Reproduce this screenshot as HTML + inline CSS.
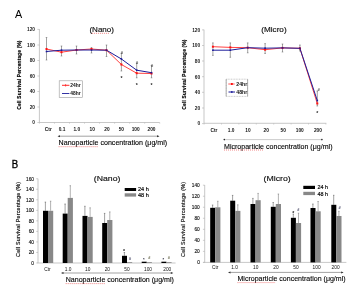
<!DOCTYPE html>
<html><head><meta charset="utf-8"><style>
html,body{margin:0;padding:0;background:#fff;width:362px;height:295px;overflow:hidden}
svg{display:block;filter:blur(0.25px)}
text{font-family:"Liberation Sans", sans-serif}
</style></head><body>
<svg width="362" height="295" viewBox="0 0 362 295">
<rect width="362" height="295" fill="#fff"/>
<text x="15" y="17.6" font-size="11" text-anchor="start" font-weight="normal" fill="#000" textLength="7.2" lengthAdjust="spacingAndGlyphs" >A</text>
<text transform="translate(19.2,75.1) rotate(-90)" x="0" y="0" font-size="4.7" text-anchor="middle" dominant-baseline="central" font-weight="bold" fill="#000" stroke="#000" stroke-width="0.18" textLength="69" lengthAdjust="spacing">Cell Survival Percentage (%)</text>
<line x1="39.4" y1="29.2" x2="39.4" y2="122.5" stroke="#b0b0b0" stroke-width="0.7" />
<line x1="37.4" y1="29.4" x2="39.4" y2="29.4" stroke="#b0b0b0" stroke-width="0.6" />
<text x="35" y="31.2" font-size="4.8" text-anchor="end" font-weight="bold" fill="#222" >120</text>
<line x1="37.4" y1="45" x2="39.4" y2="45" stroke="#b0b0b0" stroke-width="0.6" />
<text x="35" y="46.8" font-size="4.8" text-anchor="end" font-weight="bold" fill="#222" >100</text>
<line x1="37.4" y1="60.5" x2="39.4" y2="60.5" stroke="#b0b0b0" stroke-width="0.6" />
<text x="35" y="62.3" font-size="4.8" text-anchor="end" font-weight="bold" fill="#222" >80</text>
<line x1="37.4" y1="76" x2="39.4" y2="76" stroke="#b0b0b0" stroke-width="0.6" />
<text x="35" y="77.8" font-size="4.8" text-anchor="end" font-weight="bold" fill="#222" >60</text>
<line x1="37.4" y1="91.5" x2="39.4" y2="91.5" stroke="#b0b0b0" stroke-width="0.6" />
<text x="35" y="93.3" font-size="4.8" text-anchor="end" font-weight="bold" fill="#222" >40</text>
<line x1="37.4" y1="107" x2="39.4" y2="107" stroke="#b0b0b0" stroke-width="0.6" />
<text x="35" y="108.8" font-size="4.8" text-anchor="end" font-weight="bold" fill="#222" >20</text>
<line x1="37.4" y1="122.5" x2="39.4" y2="122.5" stroke="#b0b0b0" stroke-width="0.6" />
<text x="35" y="124.3" font-size="4.8" text-anchor="end" font-weight="bold" fill="#222" >0</text>
<line x1="39.4" y1="122.5" x2="159.7" y2="122.5" stroke="#b0b0b0" stroke-width="0.7" />
<line x1="39.4" y1="122.5" x2="39.4" y2="123.8" stroke="#b0b0b0" stroke-width="0.5" />
<line x1="54.44" y1="122.5" x2="54.44" y2="123.8" stroke="#b0b0b0" stroke-width="0.5" />
<line x1="69.47999999999999" y1="122.5" x2="69.47999999999999" y2="123.8" stroke="#b0b0b0" stroke-width="0.5" />
<line x1="84.52" y1="122.5" x2="84.52" y2="123.8" stroke="#b0b0b0" stroke-width="0.5" />
<line x1="99.56" y1="122.5" x2="99.56" y2="123.8" stroke="#b0b0b0" stroke-width="0.5" />
<line x1="114.6" y1="122.5" x2="114.6" y2="123.8" stroke="#b0b0b0" stroke-width="0.5" />
<line x1="129.64" y1="122.5" x2="129.64" y2="123.8" stroke="#b0b0b0" stroke-width="0.5" />
<line x1="144.68" y1="122.5" x2="144.68" y2="123.8" stroke="#b0b0b0" stroke-width="0.5" />
<line x1="159.72" y1="122.5" x2="159.72" y2="123.8" stroke="#b0b0b0" stroke-width="0.5" />
<text x="48.3" y="131" font-size="4.8" text-anchor="middle" font-weight="bold" fill="#111" >Ctr</text>
<text x="62" y="131" font-size="4.8" text-anchor="middle" font-weight="bold" fill="#111" >0.1</text>
<text x="76.8" y="131" font-size="4.8" text-anchor="middle" font-weight="bold" fill="#111" >1.0</text>
<text x="92.2" y="131" font-size="4.8" text-anchor="middle" font-weight="bold" fill="#111" >10</text>
<text x="107" y="131" font-size="4.8" text-anchor="middle" font-weight="bold" fill="#111" >20</text>
<text x="121.3" y="131" font-size="4.8" text-anchor="middle" font-weight="bold" fill="#111" >50</text>
<text x="135.7" y="131" font-size="4.8" text-anchor="middle" font-weight="bold" fill="#111" >100</text>
<text x="151.5" y="131" font-size="4.8" text-anchor="middle" font-weight="bold" fill="#111" >200</text>
<line x1="58.5" y1="136.2" x2="158.5" y2="136.2" stroke="#444" stroke-width="0.5" />
<path d="M57.5,136.2 L60,135.2 L60,137.2 Z" fill="#333"/>
<path d="M159.5,136.2 L157,135.2 L157,137.2 Z" fill="#333"/>
<text x="58.6" y="145.2" font-size="6.6" text-anchor="start" font-weight="normal" fill="#000" textLength="108.6" lengthAdjust="spacingAndGlyphs" stroke="#000" stroke-width="0.1">Nanoparticle concentration (μg/ml)</text>
<line x1="58.6" y1="146.7" x2="98.5" y2="146.7" stroke="#e83030" stroke-width="0.6" stroke-dasharray="1 1"/>
<text x="89.4" y="32" font-size="7.2" text-anchor="start" font-weight="normal" fill="#111" textLength="24.6" lengthAdjust="spacingAndGlyphs" stroke="#111" stroke-width="0.15">(Nano)</text>
<line x1="91.9" y1="33.3" x2="109.4" y2="33.3" stroke="#e83030" stroke-width="0.6" stroke-dasharray="1 1"/>
<line x1="46.5" y1="37.5" x2="46.5" y2="60" stroke="#555555" stroke-width="0.55" />
<line x1="45.7" y1="37.5" x2="47.3" y2="37.5" stroke="#555555" stroke-width="0.5" />
<line x1="45.7" y1="60" x2="47.3" y2="60" stroke="#555555" stroke-width="0.5" />
<line x1="61.5" y1="46" x2="61.5" y2="56" stroke="#555555" stroke-width="0.55" />
<line x1="60.7" y1="46" x2="62.3" y2="46" stroke="#555555" stroke-width="0.5" />
<line x1="60.7" y1="56" x2="62.3" y2="56" stroke="#555555" stroke-width="0.5" />
<line x1="76.5" y1="46" x2="76.5" y2="54" stroke="#555555" stroke-width="0.55" />
<line x1="75.7" y1="46" x2="77.3" y2="46" stroke="#555555" stroke-width="0.5" />
<line x1="75.7" y1="54" x2="77.3" y2="54" stroke="#555555" stroke-width="0.5" />
<line x1="91.5" y1="47.5" x2="91.5" y2="53" stroke="#555555" stroke-width="0.55" />
<line x1="90.7" y1="47.5" x2="92.3" y2="47.5" stroke="#555555" stroke-width="0.5" />
<line x1="90.7" y1="53" x2="92.3" y2="53" stroke="#555555" stroke-width="0.5" />
<line x1="106.5" y1="45" x2="106.5" y2="56.5" stroke="#555555" stroke-width="0.55" />
<line x1="105.7" y1="45" x2="107.3" y2="45" stroke="#555555" stroke-width="0.5" />
<line x1="105.7" y1="56.5" x2="107.3" y2="56.5" stroke="#555555" stroke-width="0.5" />
<line x1="121.4" y1="53.4" x2="121.4" y2="71" stroke="#555555" stroke-width="0.55" />
<line x1="120.60000000000001" y1="53.4" x2="122.2" y2="53.4" stroke="#555555" stroke-width="0.5" />
<line x1="120.60000000000001" y1="71" x2="122.2" y2="71" stroke="#555555" stroke-width="0.5" />
<line x1="136.7" y1="63.3" x2="136.7" y2="77.8" stroke="#555555" stroke-width="0.55" />
<line x1="135.89999999999998" y1="63.3" x2="137.5" y2="63.3" stroke="#555555" stroke-width="0.5" />
<line x1="135.89999999999998" y1="77.8" x2="137.5" y2="77.8" stroke="#555555" stroke-width="0.5" />
<line x1="151.5" y1="65.6" x2="151.5" y2="77.8" stroke="#555555" stroke-width="0.55" />
<line x1="150.7" y1="65.6" x2="152.3" y2="65.6" stroke="#555555" stroke-width="0.5" />
<line x1="150.7" y1="77.8" x2="152.3" y2="77.8" stroke="#555555" stroke-width="0.5" />
<polyline fill="none" stroke="#ff1010" stroke-width="0.8" points="46.5,49 61.5,52.2 76.5,50 91.5,49 106.5,50.2 121.4,64.5 136.7,73.2 151.5,73.5"/>
<polyline fill="none" stroke="#1c1c9a" stroke-width="1" points="46.5,51.5 61.5,50.2 76.5,50 91.5,50 106.5,50.2 121.4,59 136.7,70.2 151.5,72.7"/>
<rect x="45.5" y="48" width="2" height="2" fill="#ff1010"/>
<rect x="60.5" y="51.2" width="2" height="2" fill="#ff1010"/>
<rect x="75.5" y="49" width="2" height="2" fill="#ff1010"/>
<rect x="90.5" y="48" width="2" height="2" fill="#ff1010"/>
<rect x="105.5" y="49.2" width="2" height="2" fill="#ff1010"/>
<rect x="120.4" y="63.5" width="2" height="2" fill="#ff1010"/>
<rect x="135.7" y="72.2" width="2" height="2" fill="#ff1010"/>
<rect x="150.5" y="72.5" width="2" height="2" fill="#ff1010"/>
<rect x="45.7" y="50.7" width="1.6" height="1.6" fill="#1c1c9a"/>
<rect x="60.7" y="49.400000000000006" width="1.6" height="1.6" fill="#1c1c9a"/>
<rect x="75.7" y="49.2" width="1.6" height="1.6" fill="#1c1c9a"/>
<rect x="90.7" y="49.2" width="1.6" height="1.6" fill="#1c1c9a"/>
<rect x="105.7" y="49.400000000000006" width="1.6" height="1.6" fill="#1c1c9a"/>
<rect x="120.60000000000001" y="58.2" width="1.6" height="1.6" fill="#1c1c9a"/>
<rect x="135.89999999999998" y="69.4" width="1.6" height="1.6" fill="#1c1c9a"/>
<rect x="150.7" y="71.9" width="1.6" height="1.6" fill="#1c1c9a"/>
<text x="121.9" y="53.6" font-size="4" text-anchor="middle" font-weight="bold" fill="#333" >#</text>
<text x="137.2" y="63.6" font-size="4" text-anchor="middle" font-weight="bold" fill="#333" >#</text>
<text x="152.0" y="66.6" font-size="4" text-anchor="middle" font-weight="bold" fill="#333" >#</text>
<text x="121.4" y="79.7" font-size="5.2" text-anchor="middle" font-weight="bold" fill="#222" >*</text>
<text x="136.7" y="86.6" font-size="5.2" text-anchor="middle" font-weight="bold" fill="#222" >*</text>
<text x="151.5" y="87.0" font-size="5.2" text-anchor="middle" font-weight="bold" fill="#222" >*</text>
<rect x="59.2" y="80.8" width="23.4" height="16.8" fill="#fff" stroke="#999" stroke-width="0.6"/>
<line x1="62" y1="85.3" x2="69.4" y2="85.3" stroke="#ff1010" stroke-width="0.9" />
<line x1="65.6" y1="84" x2="65.6" y2="86.6" stroke="#ff1010" stroke-width="0.6" />
<text x="70.3" y="87" font-size="5" text-anchor="start" font-weight="bold" fill="#111" textLength="10.3" lengthAdjust="spacingAndGlyphs" >24hr</text>
<line x1="62" y1="93.5" x2="69.4" y2="93.5" stroke="#1c1c9a" stroke-width="0.9" />
<text x="70.3" y="95.2" font-size="5" text-anchor="start" font-weight="bold" fill="#111" textLength="10.3" lengthAdjust="spacingAndGlyphs" >48hr</text>
<text transform="translate(184.3,74.6) rotate(-90)" x="0" y="0" font-size="4.7" text-anchor="middle" dominant-baseline="central" font-weight="bold" fill="#000" stroke="#000" stroke-width="0.18" textLength="70" lengthAdjust="spacing">Cell Survival Percentage (%)</text>
<line x1="204" y1="29.6" x2="204" y2="123.3" stroke="#b0b0b0" stroke-width="0.7" />
<line x1="202" y1="29.9" x2="204" y2="29.9" stroke="#b0b0b0" stroke-width="0.6" />
<text x="200.2" y="31.7" font-size="4.8" text-anchor="end" font-weight="bold" fill="#222" >120</text>
<line x1="202" y1="45.5" x2="204" y2="45.5" stroke="#b0b0b0" stroke-width="0.6" />
<text x="200.2" y="47.3" font-size="4.8" text-anchor="end" font-weight="bold" fill="#222" >100</text>
<line x1="202" y1="61" x2="204" y2="61" stroke="#b0b0b0" stroke-width="0.6" />
<text x="200.2" y="62.8" font-size="4.8" text-anchor="end" font-weight="bold" fill="#222" >80</text>
<line x1="202" y1="76.7" x2="204" y2="76.7" stroke="#b0b0b0" stroke-width="0.6" />
<text x="200.2" y="78.5" font-size="4.8" text-anchor="end" font-weight="bold" fill="#222" >60</text>
<line x1="202" y1="92.3" x2="204" y2="92.3" stroke="#b0b0b0" stroke-width="0.6" />
<text x="200.2" y="94.1" font-size="4.8" text-anchor="end" font-weight="bold" fill="#222" >40</text>
<line x1="202" y1="108" x2="204" y2="108" stroke="#b0b0b0" stroke-width="0.6" />
<text x="200.2" y="109.8" font-size="4.8" text-anchor="end" font-weight="bold" fill="#222" >20</text>
<line x1="202" y1="123.6" x2="204" y2="123.6" stroke="#b0b0b0" stroke-width="0.6" />
<text x="200.2" y="125.39999999999999" font-size="4.8" text-anchor="end" font-weight="bold" fill="#222" >0</text>
<line x1="204" y1="123.3" x2="326.3" y2="123.3" stroke="#b0b0b0" stroke-width="0.7" />
<line x1="204.1" y1="123.3" x2="204.1" y2="124.6" stroke="#b0b0b0" stroke-width="0.5" />
<line x1="221.5" y1="123.3" x2="221.5" y2="124.6" stroke="#b0b0b0" stroke-width="0.5" />
<line x1="238.89999999999998" y1="123.3" x2="238.89999999999998" y2="124.6" stroke="#b0b0b0" stroke-width="0.5" />
<line x1="256.3" y1="123.3" x2="256.3" y2="124.6" stroke="#b0b0b0" stroke-width="0.5" />
<line x1="273.7" y1="123.3" x2="273.7" y2="124.6" stroke="#b0b0b0" stroke-width="0.5" />
<line x1="291.1" y1="123.3" x2="291.1" y2="124.6" stroke="#b0b0b0" stroke-width="0.5" />
<line x1="308.5" y1="123.3" x2="308.5" y2="124.6" stroke="#b0b0b0" stroke-width="0.5" />
<line x1="325.9" y1="123.3" x2="325.9" y2="124.6" stroke="#b0b0b0" stroke-width="0.5" />
<text x="214" y="131.9" font-size="4.8" text-anchor="middle" font-weight="bold" fill="#111" >Ctr</text>
<text x="231.2" y="131.9" font-size="4.8" text-anchor="middle" font-weight="bold" fill="#111" >1.0</text>
<text x="248" y="131.9" font-size="4.8" text-anchor="middle" font-weight="bold" fill="#111" >10</text>
<text x="266.2" y="131.9" font-size="4.8" text-anchor="middle" font-weight="bold" fill="#111" >20</text>
<text x="283.2" y="131.9" font-size="4.8" text-anchor="middle" font-weight="bold" fill="#111" >50</text>
<text x="299.8" y="131.9" font-size="4.8" text-anchor="middle" font-weight="bold" fill="#111" >100</text>
<text x="317.9" y="131.9" font-size="4.8" text-anchor="middle" font-weight="bold" fill="#111" >200</text>
<line x1="224" y1="139.6" x2="321.9" y2="139.6" stroke="#aaa" stroke-width="0.6" />
<circle cx="224.3" cy="139.6" r="0.8" fill="#222"/>
<circle cx="321.9" cy="139.6" r="0.8" fill="#222"/>
<text x="224" y="148.6" font-size="6.6" text-anchor="start" font-weight="normal" fill="#000" textLength="108.5" lengthAdjust="spacingAndGlyphs" stroke="#000" stroke-width="0.1">Microparticle concentration (μg/ml)</text>
<line x1="224" y1="150" x2="263" y2="150" stroke="#e83030" stroke-width="0.6" stroke-dasharray="1 1"/>
<text x="261.3" y="32" font-size="7.2" text-anchor="start" font-weight="normal" fill="#111" textLength="25.3" lengthAdjust="spacingAndGlyphs" stroke="#111" stroke-width="0.15">(Micro)</text>
<line x1="212.9" y1="42.9" x2="212.9" y2="55.4" stroke="#555555" stroke-width="0.55" />
<line x1="212.1" y1="42.9" x2="213.70000000000002" y2="42.9" stroke="#555555" stroke-width="0.5" />
<line x1="212.1" y1="55.4" x2="213.70000000000002" y2="55.4" stroke="#555555" stroke-width="0.5" />
<line x1="230.3" y1="42.9" x2="230.3" y2="57.3" stroke="#555555" stroke-width="0.55" />
<line x1="229.5" y1="42.9" x2="231.10000000000002" y2="42.9" stroke="#555555" stroke-width="0.5" />
<line x1="229.5" y1="57.3" x2="231.10000000000002" y2="57.3" stroke="#555555" stroke-width="0.5" />
<line x1="247.7" y1="42.9" x2="247.7" y2="52.8" stroke="#555555" stroke-width="0.55" />
<line x1="246.89999999999998" y1="42.9" x2="248.5" y2="42.9" stroke="#555555" stroke-width="0.5" />
<line x1="246.89999999999998" y1="52.8" x2="248.5" y2="52.8" stroke="#555555" stroke-width="0.5" />
<line x1="265.1" y1="43.6" x2="265.1" y2="53.5" stroke="#555555" stroke-width="0.55" />
<line x1="264.3" y1="43.6" x2="265.90000000000003" y2="43.6" stroke="#555555" stroke-width="0.5" />
<line x1="264.3" y1="53.5" x2="265.90000000000003" y2="53.5" stroke="#555555" stroke-width="0.5" />
<line x1="282.5" y1="44" x2="282.5" y2="52" stroke="#555555" stroke-width="0.55" />
<line x1="281.7" y1="44" x2="283.3" y2="44" stroke="#555555" stroke-width="0.5" />
<line x1="281.7" y1="52" x2="283.3" y2="52" stroke="#555555" stroke-width="0.5" />
<line x1="299.9" y1="45" x2="299.9" y2="51" stroke="#555555" stroke-width="0.55" />
<line x1="299.09999999999997" y1="45" x2="300.7" y2="45" stroke="#555555" stroke-width="0.5" />
<line x1="299.09999999999997" y1="51" x2="300.7" y2="51" stroke="#555555" stroke-width="0.5" />
<line x1="317.3" y1="91" x2="317.3" y2="106" stroke="#555555" stroke-width="0.55" />
<line x1="316.5" y1="91" x2="318.1" y2="91" stroke="#555555" stroke-width="0.5" />
<line x1="316.5" y1="106" x2="318.1" y2="106" stroke="#555555" stroke-width="0.5" />
<polyline fill="none" stroke="#ff1010" stroke-width="0.8" points="212.9,46.7 230.3,47.4 247.7,47.7 265.1,49.7 282.5,47.9 299.9,48.3 317.3,103.5"/>
<polyline fill="none" stroke="#1c1c9a" stroke-width="1" points="212.9,50.2 230.3,50.2 247.7,47.7 265.1,48.2 282.5,47.9 299.9,48.3 317.3,100.6"/>
<rect x="211.9" y="45.7" width="2" height="2" fill="#ff1010"/>
<rect x="229.3" y="46.4" width="2" height="2" fill="#ff1010"/>
<rect x="246.7" y="46.7" width="2" height="2" fill="#ff1010"/>
<rect x="264.1" y="48.7" width="2" height="2" fill="#ff1010"/>
<rect x="281.5" y="46.9" width="2" height="2" fill="#ff1010"/>
<rect x="298.9" y="47.3" width="2" height="2" fill="#ff1010"/>
<rect x="316.3" y="102.5" width="2" height="2" fill="#ff1010"/>
<rect x="212.1" y="49.400000000000006" width="1.6" height="1.6" fill="#1c1c9a"/>
<rect x="229.5" y="49.400000000000006" width="1.6" height="1.6" fill="#1c1c9a"/>
<rect x="246.89999999999998" y="46.900000000000006" width="1.6" height="1.6" fill="#1c1c9a"/>
<rect x="264.3" y="47.400000000000006" width="1.6" height="1.6" fill="#1c1c9a"/>
<rect x="281.7" y="47.1" width="1.6" height="1.6" fill="#1c1c9a"/>
<rect x="299.09999999999997" y="47.5" width="1.6" height="1.6" fill="#1c1c9a"/>
<rect x="316.5" y="99.8" width="1.6" height="1.6" fill="#1c1c9a"/>
<text x="318.5" y="91" font-size="4" text-anchor="middle" font-weight="bold" fill="#333" >#</text>
<text x="317.3" y="114.6" font-size="5.2" text-anchor="middle" font-weight="bold" fill="#222" >*</text>
<rect x="226.2" y="79.2" width="21.4" height="17.2" fill="#fff" stroke="#aaa" stroke-width="0.6" stroke-dasharray="1 0.6"/>
<line x1="226.2" y1="79.2" x2="226.2" y2="96.4" stroke="#888" stroke-width="0.6" />
<line x1="247.6" y1="79.2" x2="247.6" y2="96.4" stroke="#888" stroke-width="0.6" />
<line x1="228.5" y1="84" x2="235" y2="84" stroke="#ff1010" stroke-width="1" stroke-dasharray="1.2 0.8"/>
<rect x="230.8" y="83" width="2" height="2" fill="#ff1010"/>
<text x="236.3" y="86.2" font-size="5.6" text-anchor="start" font-weight="bold" fill="#111" textLength="10.9" lengthAdjust="spacingAndGlyphs" >24hr</text>
<line x1="228.5" y1="92" x2="235" y2="92" stroke="#1c1c9a" stroke-width="1" />
<rect x="231" y="91.2" width="1.6" height="1.6" fill="#1c1c9a"/>
<text x="236.3" y="94.1" font-size="5.6" text-anchor="start" font-weight="bold" fill="#111" textLength="10.9" lengthAdjust="spacingAndGlyphs" >48hr</text>
<text x="11.8" y="167.6" font-size="10.5" text-anchor="start" font-weight="normal" fill="#000" textLength="6.4" lengthAdjust="spacingAndGlyphs" stroke="#000" stroke-width="0.35">B</text>
<text transform="translate(18.2,219.5) rotate(-90)" x="0" y="0" font-size="5.4" text-anchor="middle" dominant-baseline="central" font-weight="normal" fill="#111" stroke="#111" stroke-width="0.18" textLength="75" lengthAdjust="spacing">Cell Survival Percentage (%)</text>
<line x1="38" y1="178.7" x2="38" y2="263" stroke="#b0b0b0" stroke-width="0.7" />
<line x1="36.2" y1="178.75" x2="38" y2="178.75" stroke="#b0b0b0" stroke-width="0.6" />
<text x="34" y="180.55" font-size="4.8" text-anchor="end" font-weight="normal" fill="#111" stroke="#111" stroke-width="0.12">160</text>
<line x1="36.2" y1="189.28" x2="38" y2="189.28" stroke="#b0b0b0" stroke-width="0.6" />
<text x="34" y="191.08" font-size="4.8" text-anchor="end" font-weight="normal" fill="#111" stroke="#111" stroke-width="0.12">140</text>
<line x1="36.2" y1="199.81" x2="38" y2="199.81" stroke="#b0b0b0" stroke-width="0.6" />
<text x="34" y="201.61" font-size="4.8" text-anchor="end" font-weight="normal" fill="#111" stroke="#111" stroke-width="0.12">120</text>
<line x1="36.2" y1="210.34" x2="38" y2="210.34" stroke="#b0b0b0" stroke-width="0.6" />
<text x="34" y="212.14000000000001" font-size="4.8" text-anchor="end" font-weight="normal" fill="#111" stroke="#111" stroke-width="0.12">100</text>
<line x1="36.2" y1="220.87" x2="38" y2="220.87" stroke="#b0b0b0" stroke-width="0.6" />
<text x="34" y="222.67000000000002" font-size="4.8" text-anchor="end" font-weight="normal" fill="#111" stroke="#111" stroke-width="0.12">80</text>
<line x1="36.2" y1="231.4" x2="38" y2="231.4" stroke="#b0b0b0" stroke-width="0.6" />
<text x="34" y="233.20000000000002" font-size="4.8" text-anchor="end" font-weight="normal" fill="#111" stroke="#111" stroke-width="0.12">60</text>
<line x1="36.2" y1="241.93" x2="38" y2="241.93" stroke="#b0b0b0" stroke-width="0.6" />
<text x="34" y="243.73000000000002" font-size="4.8" text-anchor="end" font-weight="normal" fill="#111" stroke="#111" stroke-width="0.12">40</text>
<line x1="36.2" y1="252.45999999999998" x2="38" y2="252.45999999999998" stroke="#b0b0b0" stroke-width="0.6" />
<text x="34" y="254.26" font-size="4.8" text-anchor="end" font-weight="normal" fill="#111" stroke="#111" stroke-width="0.12">20</text>
<line x1="36.2" y1="262.99" x2="38" y2="262.99" stroke="#b0b0b0" stroke-width="0.6" />
<text x="34" y="264.79" font-size="4.8" text-anchor="end" font-weight="normal" fill="#111" stroke="#111" stroke-width="0.12">0</text>
<line x1="37.5" y1="263" x2="175.6" y2="263" stroke="#b0b0b0" stroke-width="0.7" />
<text x="47.4" y="270.9" font-size="4.8" text-anchor="middle" font-weight="normal" fill="#111" >Ctr</text>
<text x="68.2" y="270.9" font-size="4.8" text-anchor="middle" font-weight="normal" fill="#111" >1.0</text>
<text x="87.7" y="270.9" font-size="4.8" text-anchor="middle" font-weight="normal" fill="#111" >10</text>
<text x="107.3" y="270.9" font-size="4.8" text-anchor="middle" font-weight="normal" fill="#111" >20</text>
<text x="127" y="270.9" font-size="4.8" text-anchor="middle" font-weight="normal" fill="#111" >50</text>
<text x="148" y="270.9" font-size="4.8" text-anchor="middle" font-weight="normal" fill="#111" >100</text>
<text x="167.3" y="270.9" font-size="4.8" text-anchor="middle" font-weight="normal" fill="#111" >200</text>
<line x1="45.4" y1="202.1" x2="45.4" y2="210.8" stroke="#444" stroke-width="0.5" />
<line x1="44.7" y1="202.1" x2="46.1" y2="202.1" stroke="#444" stroke-width="0.5" />
<line x1="50.6" y1="201.2" x2="50.6" y2="210.8" stroke="#666" stroke-width="0.5" />
<line x1="49.9" y1="201.2" x2="51.3" y2="201.2" stroke="#666" stroke-width="0.5" />
<rect x="43" y="210.8" width="5" height="52.19999999999999" fill="#000"/>
<rect x="48" y="210.8" width="5.2" height="52.19999999999999" fill="#888"/>
<line x1="65.10000000000001" y1="204" x2="65.10000000000001" y2="213.6" stroke="#444" stroke-width="0.5" />
<line x1="64.4" y1="204" x2="65.8" y2="204" stroke="#444" stroke-width="0.5" />
<line x1="70.3" y1="185.7" x2="70.3" y2="197.9" stroke="#666" stroke-width="0.5" />
<line x1="69.60000000000001" y1="185.7" x2="71.0" y2="185.7" stroke="#666" stroke-width="0.5" />
<rect x="62.7" y="213.6" width="5" height="49.400000000000006" fill="#000"/>
<rect x="67.7" y="197.9" width="5.2" height="65.1" fill="#888"/>
<line x1="84.9" y1="206.25" x2="84.9" y2="215.9" stroke="#444" stroke-width="0.5" />
<line x1="84.2" y1="206.25" x2="85.6" y2="206.25" stroke="#444" stroke-width="0.5" />
<line x1="90.1" y1="207.8" x2="90.1" y2="216.9" stroke="#666" stroke-width="0.5" />
<line x1="89.4" y1="207.8" x2="90.8" y2="207.8" stroke="#666" stroke-width="0.5" />
<rect x="82.5" y="215.9" width="5" height="47.099999999999994" fill="#000"/>
<rect x="87.5" y="216.9" width="5.2" height="46.099999999999994" fill="#888"/>
<line x1="104.60000000000001" y1="213.4" x2="104.60000000000001" y2="223" stroke="#444" stroke-width="0.5" />
<line x1="103.9" y1="213.4" x2="105.3" y2="213.4" stroke="#444" stroke-width="0.5" />
<line x1="109.8" y1="211.9" x2="109.8" y2="220" stroke="#666" stroke-width="0.5" />
<line x1="109.10000000000001" y1="211.9" x2="110.5" y2="211.9" stroke="#666" stroke-width="0.5" />
<rect x="102.2" y="223" width="5" height="40" fill="#000"/>
<rect x="107.2" y="220" width="5.2" height="43" fill="#888"/>
<line x1="124.4" y1="252.5" x2="124.4" y2="255.8" stroke="#444" stroke-width="0.5" />
<line x1="123.7" y1="252.5" x2="125.1" y2="252.5" stroke="#444" stroke-width="0.5" />
<rect x="122" y="255.8" width="5" height="7.199999999999989" fill="#000"/>
<rect x="127" y="262.2" width="5.2" height="0.8000000000000114" fill="#888"/>
<rect x="141.7" y="261.7" width="5" height="1.3000000000000114" fill="#000"/>
<rect x="146.7" y="262.2" width="5.2" height="0.8000000000000114" fill="#888"/>
<rect x="161.4" y="261.7" width="5" height="1.3000000000000114" fill="#000"/>
<rect x="166.4" y="262.2" width="5.2" height="0.8000000000000114" fill="#888"/>
<text x="124" y="252.9" font-size="5.2" text-anchor="middle" font-weight="bold" fill="#111" >*</text>
<text x="130.1" y="259.5" font-size="3.8" text-anchor="middle" font-weight="bold" fill="#335" >#</text>
<text x="143.7" y="260.5" font-size="4.2" text-anchor="middle" font-weight="bold" fill="#223" >*</text>
<text x="149.2" y="259.2" font-size="3.8" text-anchor="middle" font-weight="bold" fill="#553" >#</text>
<text x="163.4" y="260.5" font-size="4.2" text-anchor="middle" font-weight="bold" fill="#223" >*</text>
<text x="168.9" y="259.2" font-size="3.8" text-anchor="middle" font-weight="bold" fill="#553" >#</text>
<line x1="61.8" y1="273" x2="172.3" y2="273" stroke="#444" stroke-width="0.5" />
<path d="M61,273 L63.5,272 L63.5,274 Z" fill="#333"/>
<path d="M173.3,273 L170.8,272 L170.8,274 Z" fill="#333"/>
<text x="65.7" y="282.2" font-size="6.6" text-anchor="start" font-weight="normal" fill="#000" textLength="108.2" lengthAdjust="spacingAndGlyphs" stroke="#000" stroke-width="0.1">Nanoparticle concentration (μg/ml)</text>
<line x1="65.7" y1="283.6" x2="105.5" y2="283.6" stroke="#e83030" stroke-width="0.6" stroke-dasharray="1 1"/>
<text x="93.8" y="181.4" font-size="7.6" text-anchor="start" font-weight="normal" fill="#111" textLength="26.6" lengthAdjust="spacingAndGlyphs" stroke="#111" stroke-width="0.15">(Nano)</text>
<rect x="124.7" y="188" width="11.4" height="3" fill="#000"/>
<rect x="124.7" y="193.3" width="11.4" height="3.3" fill="#888"/>
<text x="138" y="191.4" font-size="5" text-anchor="start" font-weight="normal" fill="#000" textLength="10.8" lengthAdjust="spacingAndGlyphs" stroke="#000" stroke-width="0.15">24 h</text>
<text x="138" y="196.9" font-size="5" text-anchor="start" font-weight="normal" fill="#000" textLength="10.8" lengthAdjust="spacingAndGlyphs" stroke="#000" stroke-width="0.15">48 h</text>
<text transform="translate(183,219.5) rotate(-90)" x="0" y="0" font-size="5.4" text-anchor="middle" dominant-baseline="central" font-weight="normal" fill="#222" stroke="#222" stroke-width="0.18" textLength="75" lengthAdjust="spacing">Cell Survival Percentage (%)</text>
<line x1="204.7" y1="185" x2="204.7" y2="262.4" stroke="#b0b0b0" stroke-width="0.7" />
<line x1="202.9" y1="185.2" x2="204.7" y2="185.2" stroke="#b0b0b0" stroke-width="0.6" />
<text x="199.8" y="187.0" font-size="4.8" text-anchor="end" font-weight="normal" fill="#111" stroke="#111" stroke-width="0.12">140</text>
<line x1="202.9" y1="196.23" x2="204.7" y2="196.23" stroke="#b0b0b0" stroke-width="0.6" />
<text x="199.8" y="198.03" font-size="4.8" text-anchor="end" font-weight="normal" fill="#111" stroke="#111" stroke-width="0.12">120</text>
<line x1="202.9" y1="207.26" x2="204.7" y2="207.26" stroke="#b0b0b0" stroke-width="0.6" />
<text x="199.8" y="209.06" font-size="4.8" text-anchor="end" font-weight="normal" fill="#111" stroke="#111" stroke-width="0.12">100</text>
<line x1="202.9" y1="218.29" x2="204.7" y2="218.29" stroke="#b0b0b0" stroke-width="0.6" />
<text x="199.8" y="220.09" font-size="4.8" text-anchor="end" font-weight="normal" fill="#111" stroke="#111" stroke-width="0.12">80</text>
<line x1="202.9" y1="229.32" x2="204.7" y2="229.32" stroke="#b0b0b0" stroke-width="0.6" />
<text x="199.8" y="231.12" font-size="4.8" text-anchor="end" font-weight="normal" fill="#111" stroke="#111" stroke-width="0.12">60</text>
<line x1="202.9" y1="240.35" x2="204.7" y2="240.35" stroke="#b0b0b0" stroke-width="0.6" />
<text x="199.8" y="242.15" font-size="4.8" text-anchor="end" font-weight="normal" fill="#111" stroke="#111" stroke-width="0.12">40</text>
<line x1="202.9" y1="251.38" x2="204.7" y2="251.38" stroke="#b0b0b0" stroke-width="0.6" />
<text x="199.8" y="253.18" font-size="4.8" text-anchor="end" font-weight="normal" fill="#111" stroke="#111" stroke-width="0.12">20</text>
<line x1="202.9" y1="262.40999999999997" x2="204.7" y2="262.40999999999997" stroke="#b0b0b0" stroke-width="0.6" />
<text x="199.8" y="264.21" font-size="4.8" text-anchor="end" font-weight="normal" fill="#111" stroke="#111" stroke-width="0.12">0</text>
<line x1="203.2" y1="262.4" x2="346.4" y2="262.4" stroke="#b0b0b0" stroke-width="0.7" />
<text x="215.2" y="269.2" font-size="4.8" text-anchor="middle" font-weight="normal" fill="#111" >Ctr</text>
<text x="234.7" y="269.2" font-size="4.8" text-anchor="middle" font-weight="normal" fill="#111" >1.0</text>
<text x="255.7" y="269.2" font-size="4.8" text-anchor="middle" font-weight="normal" fill="#111" >10</text>
<text x="276" y="269.2" font-size="4.8" text-anchor="middle" font-weight="normal" fill="#111" >20</text>
<text x="296" y="269.2" font-size="4.8" text-anchor="middle" font-weight="normal" fill="#111" >50</text>
<text x="316.6" y="269.2" font-size="4.8" text-anchor="middle" font-weight="normal" fill="#111" >100</text>
<text x="335.6" y="269.2" font-size="4.8" text-anchor="middle" font-weight="normal" fill="#111" >200</text>
<line x1="212.6" y1="205" x2="212.6" y2="207.8" stroke="#444" stroke-width="0.5" />
<line x1="211.89999999999998" y1="205" x2="213.29999999999998" y2="205" stroke="#444" stroke-width="0.5" />
<line x1="217.79999999999998" y1="201.25" x2="217.79999999999998" y2="207.3" stroke="#666" stroke-width="0.5" />
<line x1="217.1" y1="201.25" x2="218.5" y2="201.25" stroke="#666" stroke-width="0.5" />
<rect x="210.2" y="207.8" width="5" height="54.599999999999966" fill="#000"/>
<rect x="215.2" y="207.3" width="5.2" height="55.099999999999966" fill="#888"/>
<line x1="232.6" y1="195.4" x2="232.6" y2="200.7" stroke="#444" stroke-width="0.5" />
<line x1="231.89999999999998" y1="195.4" x2="233.29999999999998" y2="195.4" stroke="#444" stroke-width="0.5" />
<line x1="237.79999999999998" y1="204.8" x2="237.79999999999998" y2="210.9" stroke="#666" stroke-width="0.5" />
<line x1="237.1" y1="204.8" x2="238.5" y2="204.8" stroke="#666" stroke-width="0.5" />
<rect x="230.2" y="200.7" width="5" height="61.69999999999999" fill="#000"/>
<rect x="235.2" y="210.9" width="5.2" height="51.49999999999997" fill="#888"/>
<line x1="252.9" y1="198.4" x2="252.9" y2="204" stroke="#444" stroke-width="0.5" />
<line x1="252.2" y1="198.4" x2="253.6" y2="198.4" stroke="#444" stroke-width="0.5" />
<line x1="258.1" y1="193.4" x2="258.1" y2="200.2" stroke="#666" stroke-width="0.5" />
<line x1="257.4" y1="193.4" x2="258.8" y2="193.4" stroke="#666" stroke-width="0.5" />
<rect x="250.5" y="204" width="5" height="58.39999999999998" fill="#000"/>
<rect x="255.5" y="200.2" width="5.2" height="62.19999999999999" fill="#888"/>
<line x1="273.2" y1="202.5" x2="273.2" y2="206.8" stroke="#444" stroke-width="0.5" />
<line x1="272.5" y1="202.5" x2="273.90000000000003" y2="202.5" stroke="#444" stroke-width="0.5" />
<line x1="278.40000000000003" y1="194" x2="278.40000000000003" y2="204" stroke="#666" stroke-width="0.5" />
<line x1="277.7" y1="194" x2="279.1" y2="194" stroke="#666" stroke-width="0.5" />
<rect x="270.8" y="206.8" width="5" height="55.599999999999966" fill="#000"/>
<rect x="275.8" y="204" width="5.2" height="58.39999999999998" fill="#888"/>
<line x1="293.29999999999995" y1="214.1" x2="293.29999999999995" y2="217.8" stroke="#444" stroke-width="0.5" />
<line x1="292.59999999999997" y1="214.1" x2="294.0" y2="214.1" stroke="#444" stroke-width="0.5" />
<line x1="298.5" y1="213.2" x2="298.5" y2="223" stroke="#666" stroke-width="0.5" />
<line x1="297.79999999999995" y1="213.2" x2="299.2" y2="213.2" stroke="#666" stroke-width="0.5" />
<rect x="290.9" y="217.8" width="5" height="44.599999999999966" fill="#000"/>
<rect x="295.9" y="223" width="5.2" height="39.39999999999998" fill="#888"/>
<line x1="312.9" y1="204" x2="312.9" y2="208" stroke="#444" stroke-width="0.5" />
<line x1="312.2" y1="204" x2="313.6" y2="204" stroke="#444" stroke-width="0.5" />
<line x1="318.1" y1="201.5" x2="318.1" y2="211.3" stroke="#666" stroke-width="0.5" />
<line x1="317.4" y1="201.5" x2="318.8" y2="201.5" stroke="#666" stroke-width="0.5" />
<rect x="310.5" y="208" width="5" height="54.39999999999998" fill="#000"/>
<rect x="315.5" y="211.3" width="5.2" height="51.099999999999966" fill="#888"/>
<line x1="333.7" y1="195.3" x2="333.7" y2="204.8" stroke="#444" stroke-width="0.5" />
<line x1="333.0" y1="195.3" x2="334.40000000000003" y2="195.3" stroke="#444" stroke-width="0.5" />
<line x1="338.90000000000003" y1="211.3" x2="338.90000000000003" y2="216" stroke="#666" stroke-width="0.5" />
<line x1="338.2" y1="211.3" x2="339.6" y2="211.3" stroke="#666" stroke-width="0.5" />
<rect x="331.3" y="204.8" width="5" height="57.599999999999966" fill="#000"/>
<rect x="336.3" y="216" width="5.2" height="46.39999999999998" fill="#888"/>
<text x="293.2" y="215" font-size="5.2" text-anchor="middle" font-weight="bold" fill="#111" >*</text>
<text x="298.3" y="210.6" font-size="3.8" text-anchor="middle" font-weight="bold" fill="#335" >#</text>
<text x="339.5" y="208.7" font-size="3.8" text-anchor="middle" font-weight="bold" fill="#335" >#</text>
<line x1="228.8" y1="272.4" x2="342.6" y2="272.4" stroke="#444" stroke-width="0.5" />
<path d="M228,272.4 L230.5,271.4 L230.5,273.4 Z" fill="#333"/>
<path d="M343.6,272.4 L341.1,271.4 L341.1,273.4 Z" fill="#333"/>
<text x="237.5" y="281.2" font-size="6.6" text-anchor="start" font-weight="normal" fill="#000" textLength="108.1" lengthAdjust="spacingAndGlyphs" stroke="#000" stroke-width="0.1">Microparticle concentration (μg/ml)</text>
<line x1="237.5" y1="282.6" x2="275.6" y2="282.6" stroke="#e83030" stroke-width="0.6" stroke-dasharray="1 1"/>
<text x="263.6" y="181.3" font-size="7.6" text-anchor="start" font-weight="normal" fill="#111" textLength="27.2" lengthAdjust="spacingAndGlyphs" stroke="#111" stroke-width="0.15">(Micro)</text>
<rect x="303.3" y="185.8" width="11.7" height="3.2" fill="#000"/>
<rect x="303.3" y="191.8" width="11.7" height="3.3" fill="#888"/>
<text x="317.5" y="189.2" font-size="5" text-anchor="start" font-weight="normal" fill="#000" textLength="10.5" lengthAdjust="spacingAndGlyphs" stroke="#000" stroke-width="0.15">24 h</text>
<text x="317.5" y="195.6" font-size="5" text-anchor="start" font-weight="normal" fill="#000" textLength="10.5" lengthAdjust="spacingAndGlyphs" stroke="#000" stroke-width="0.15">48 h</text>
</svg>
</body></html>
